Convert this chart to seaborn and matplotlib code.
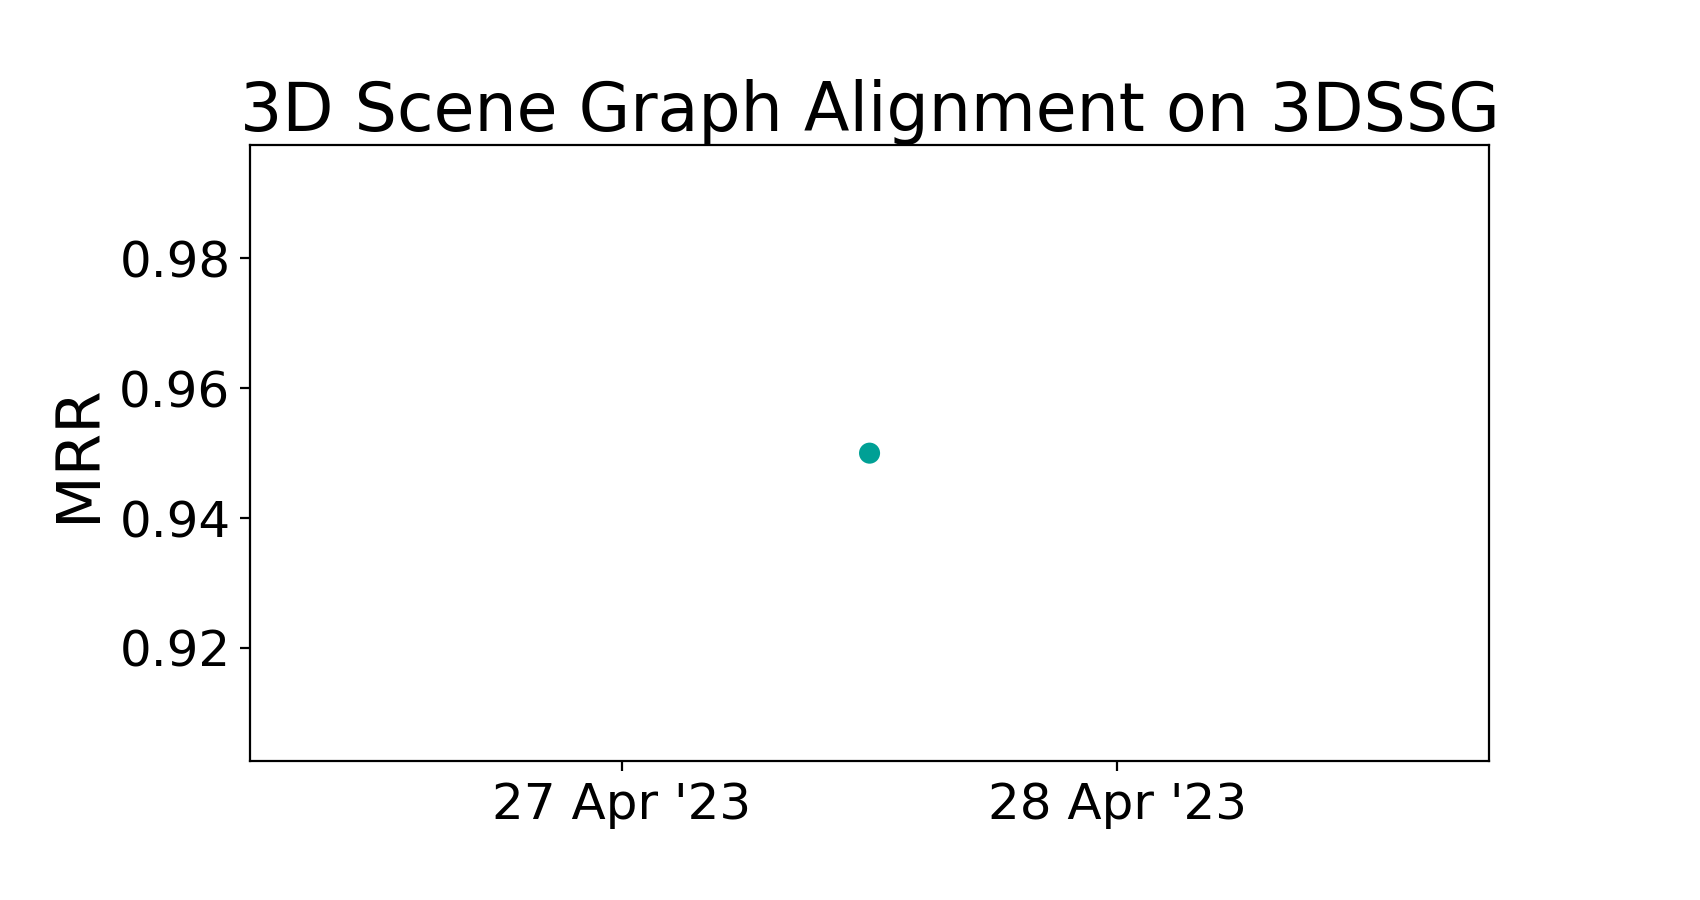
import pandas as pd
import numpy as np
import matplotlib
matplotlib.use('Agg')
import matplotlib.pyplot as plt
import matplotlib.dates as mdates
import seaborn as sns

# Datos del grafico
fechas = ['2023-04-27 12:00']
mrr = [0.95]
titulo = '3D Scene Graph Alignment on 3DSSG'

df = pd.DataFrame({'fecha': pd.to_datetime(fechas), 'MRR': mrr})

sns.set_style('ticks')
plt.rcParams['font.family'] = ['DejaVu Sans']
plt.rcParams['text.color'] = 'black'
plt.rcParams['axes.labelcolor'] = 'black'
plt.rcParams['xtick.color'] = 'black'
plt.rcParams['ytick.color'] = 'black'

fig, ax = plt.subplots(figsize=(17, 9), dpi=100)
fig.subplots_adjust(left=0.147, right=0.876, top=0.839, bottom=0.154)

sns.scatterplot(data=df, x='fecha', y='MRR', ax=ax, color='#00a095', s=230,
                edgecolor='none', legend=False)

# limites como los de matplotlib para un solo punto
centro = df['fecha'].iloc[0]
ax.set_xlim(centro - pd.Timedelta(hours=30), centro + pd.Timedelta(hours=30))
ax.set_ylim(mrr[0] - 0.0475, mrr[0] + 0.0475)

ax.xaxis.set_major_locator(mdates.DayLocator())
ax.xaxis.set_major_formatter(mdates.DateFormatter("%d %b '%y"))
ax.set_yticks([0.92, 0.94, 0.96, 0.98])

ax.set_title(titulo, fontsize=48, pad=6, color='black')
ax.set_xlabel('')
ax.set_ylabel('MRR', fontsize=44, labelpad=8, color='black')
ax.tick_params(axis='both', labelsize=36, length=7, width=1.6, pad=7,
               direction='out', color='black', labelcolor='black')
for sp in ax.spines.values():
    sp.set_linewidth(1.6)
    sp.set_color('black')
    sp.set_visible(True)

fig.savefig('out.png', dpi=100)
